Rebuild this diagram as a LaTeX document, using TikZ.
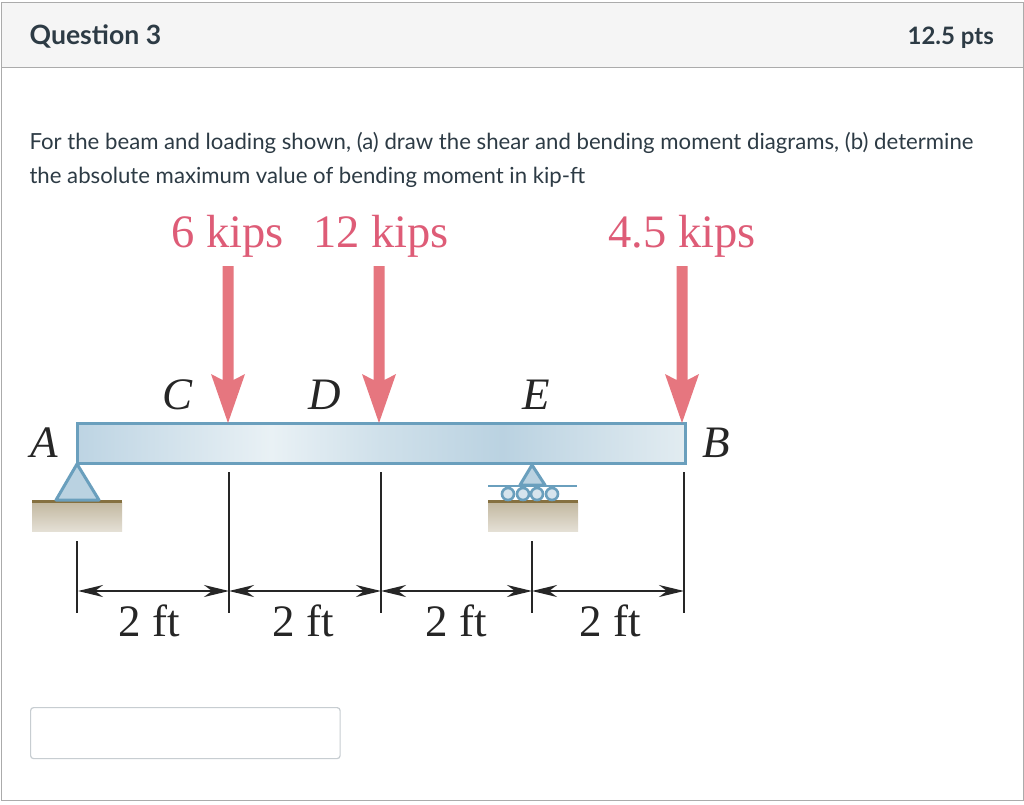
\documentclass[tikz,border=0pt]{standalone}
\usepackage{fontspec}
\setmainfont{Lato}
\newfontfamily\figfont{Liberation Serif}
\usetikzlibrary{arrows.meta}
\definecolor{uitext}{HTML}{2D3B45}
\definecolor{uiline}{HTML}{ABABAB}
\definecolor{uihead}{HTML}{F5F5F5}
\definecolor{boxline}{HTML}{C7CDD1}
\definecolor{kipred}{HTML}{DE5C77}
\definecolor{loadred}{HTML}{E6767F}
\definecolor{steel}{HTML}{6A9FBD}
\definecolor{soilline}{HTML}{857040}
\definecolor{figink}{HTML}{262626}
\definecolor{c1}{HTML}{BDD4E3}
\definecolor{c2}{HTML}{E9F1F5}
\definecolor{c3}{HTML}{CFE0EA}
\definecolor{c4}{HTML}{BAD2E1}
\definecolor{c5}{HTML}{E2ECF1}
\pgfdeclarehorizontalshading{beamgrad}{100bp}{
  color(0bp)=(c1);color(25bp)=(c1);color(41bp)=(c2);color(50bp)=(c3);color(60bp)=(c4);color(75bp)=(c5);color(100bp)=(c5)}
\tikzset{
  uilabel/.style={inner sep=0pt,text=uitext},
  kiplabel/.style={inner sep=0pt,text=kipred,font=\figfont\fontsize{46.5}{46.5}\selectfont},
  ptlabel/.style={inner sep=0pt,text=figink,font=\figfont\itshape\fontsize{45}{45}\selectfont},
  dimlabel/.style={inner sep=0pt,text=figink,font=\figfont\fontsize{45}{45}\selectfont},
  extline/.style={draw=figink,line width=2.4pt},
  dimline/.style={draw=figink,line width=2.2pt,{Stealth[length=25pt,width=12pt,inset=8pt]}-{Stealth[length=25pt,width=12pt,inset=8pt]}},
  loadarrow/.style={fill=loadred,draw=none},
  supportfill/.style={draw=steel,line width=3pt,line join=round,fill=c4},
  soil/.style={draw=none,top color=soilline!50!white,bottom color=soilline!22!white},
  soiltop/.style={draw=soilline,line width=2.4pt},
  roller/.style={circle,draw=steel,line width=2.6pt,fill=c4!60!white,minimum size=12pt,inner sep=0pt}
}
\begin{document}
\begin{tikzpicture}[x=1pt,y=-1pt]
\useasboundingbox (0,0) rectangle (1024,804);
\fill[white] (0,0) rectangle (1024,804);
% question frame
\fill[uihead] (1,2) rectangle (1023,67);
\draw[uiline,line width=1pt] (1,2) rectangle (1023,800);
\draw[uiline,line width=1pt] (1,67) -- (1023,67);
\node[uilabel,anchor=base west,font=\bfseries\fontsize{26.6}{26.6}\selectfont] (q) at (29.5,44) {Question 3};
\node[uilabel,anchor=base east,font=\bfseries\fontsize{24}{24}\selectfont] (pts) at (994,44) {12.5 pts};
\node[uilabel,anchor=base west,font=\fontsize{22.18}{22.18}\selectfont] (l1) at (29.3,149) {For the beam and loading shown, (a) draw the shear and bending moment diagrams, (b) determine};
\node[uilabel,anchor=base west,font=\fontsize{22.18}{22.18}\selectfont] (l2) at (29.3,183) {the absolute maximum value of bending moment in kip-ft};
\node[draw=boxline,line width=1.2pt,rounded corners=3pt,fill=white,minimum width=309.5pt,minimum height=51pt,inner sep=0pt,anchor=north west] (answer) at (30,707) {};
% load labels
\node[kiplabel,anchor=base] (k1) at (227.5,247) {6 kips};
\node[kiplabel,anchor=base] (k2) at (381,247) {12 kips};
\node[kiplabel,anchor=base] (k3) at (682,247) {4.5 kips};
% supports
\fill[soil] (32,502) rectangle (122,531);
\draw[soiltop] (32,501.5) -- (122,501.5);
\draw[supportfill] (77,464) -- (99,500) -- (56,500) -- cycle;
\fill[soil] (488,502) rectangle (578,531);
\draw[soiltop] (488,501.5) -- (578,501.5);
\draw[supportfill] (532,465) -- (545,485) -- (520,485) -- cycle;
\draw[steel,line width=2.6pt] (488,486) -- (577,486);
\foreach \x/\n in {508/r1,523/r2,537/r3,552/r4}
  \node[roller] (\n) at (\x,494) {};
% beam
\path[shading=beamgrad,shading angle=0] (77,423) rectangle (685,463);
\draw[steel,line width=3pt] (77,423) rectangle (685,463);
% loads
\foreach \x in {228,379,682}
  \fill[loadarrow] (\x-5.5,266) -- (\x+5.5,266) -- (\x+5.5,380) -- (\x+17,374) -- (\x,423) -- (\x-17,374) -- (\x-5.5,380) -- cycle;
% point labels
\node[ptlabel] (A) at (44,443) {A};
\node[ptlabel] (C) at (178,395) {C};
\node[ptlabel] (D) at (325,395) {D};
\node[ptlabel] (E) at (536,395) {E};
\node[ptlabel] (B) at (716,443) {B};
% extension lines
\coordinate (tA) at (77,541); \coordinate (bA) at (77,613);
\coordinate (tC) at (229,472); \coordinate (bC) at (229,613);
\coordinate (tD) at (381,472); \coordinate (bD) at (381,613);
\coordinate (tE) at (532,541); \coordinate (bE) at (532,613);
\coordinate (tB) at (684,472); \coordinate (bB) at (684,613);
\draw[extline] (tA) -- (bA);
\draw[extline] (tC) -- (bC);
\draw[extline] (tD) -- (bD);
\draw[extline] (tE) -- (bE);
\draw[extline] (tB) -- (bB);
% dimension lines
\coordinate (dA) at (78,591); \coordinate (dC) at (229,591);
\coordinate (dD) at (381,591); \coordinate (dE) at (532,591); \coordinate (dB) at (684,591);
\draw[dimline] (dA) -- (dC);
\draw[dimline] (dC) -- (dD);
\draw[dimline] (dD) -- (dE);
\draw[dimline] (dE) -- (dB);
\node[dimlabel,anchor=base] (d1) at (149.5,636) {2 ft};
\node[dimlabel,anchor=base] (d2) at (303,636) {2 ft};
\node[dimlabel,anchor=base] (d3) at (456,636) {2 ft};
\node[dimlabel,anchor=base] (d4) at (610,636) {2 ft};
\end{tikzpicture}
\end{document}
